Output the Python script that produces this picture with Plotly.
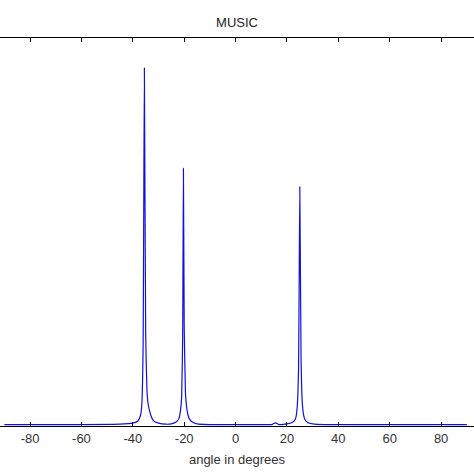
import plotly.graph_objects as go

# angle (degrees) and normalized MUSIC pseudo-spectrum
angles = [-90, -80, -60, -45, -40, -38, -37, -36.5, -36, -35.5, -35, -34.5, -34, -33, -32, -30,
          -27, -25, -23, -22, -21.5, -21, -20.6, -20.3, -20, -19.5, -19, -18.5, -18, -17, -15,
          -10, 0, 10, 14, 15.5, 17, 20, 22, 23, 23.5, 24, 24.5, 25, 25.5, 26, 26.5, 27, 28, 30,
          35, 50, 70, 90]
spectrum = [0.004, 0.004, 0.004, 0.005, 0.008, 0.014, 0.03, 0.06, 0.22, 1.0, 0.26, 0.1, 0.06, 0.03, 0.015, 0.008,
            0.005, 0.006, 0.012, 0.022, 0.04, 0.08, 0.25, 0.72, 0.28, 0.09, 0.05, 0.03, 0.02, 0.012, 0.006,
            0.004, 0.004, 0.004, 0.004, 0.009, 0.004, 0.006, 0.01, 0.016, 0.025, 0.055, 0.16, 0.668, 0.18, 0.06, 0.03, 0.018, 0.01, 0.006,
            0.004, 0.004, 0.004, 0.004]
tick_vals = [-80, -60, -40, -20, 0, 20, 40, 60, 80]
tick_text = ["-80", "-60", "-40", "-20", "0", "20", "40", "60", "80"]

fig = go.Figure()
fig.add_trace(go.Scatter(x=angles, y=spectrum, mode="lines",
                         line=dict(color="#1010e0", width=1.2, shape="spline", smoothing=0.4),
                         showlegend=False, hoverinfo="skip"))

fig.update_layout(
    width=474, height=474,
    margin=dict(l=0, r=0, t=38, b=48, autoexpand=False),
    paper_bgcolor="white", plot_bgcolor="white",
    font=dict(family="Liberation Sans, Arial, sans-serif", size=13, color="#222"),
    title=dict(text="MUSIC", x=0.5, xanchor="center", y=1 - 22 / 474, yanchor="middle",
               font=dict(size=13, color="#222"), automargin=False),
    xaxis=dict(range=[-91.7, 92.8], tickvals=tick_vals, ticktext=tick_text, ticks="inside", ticklen=4,
               tickcolor="black", showline=True, linecolor="black", linewidth=1,
               mirror="ticks", showgrid=False, zeroline=False, automargin=False,
               tickfont=dict(size=13, color="#333"),
               title=dict(text="angle in degrees", standoff=10, font=dict(size=13, color="#333"))),
    yaxis=dict(range=[0, 1.0838], showline=False, showticklabels=False, ticks="",
               showgrid=False, zeroline=False, automargin=False),
)

fig.write_html("out.html", config={"displayModeBar": False},
               post_script="document.body.style.margin='0';")
